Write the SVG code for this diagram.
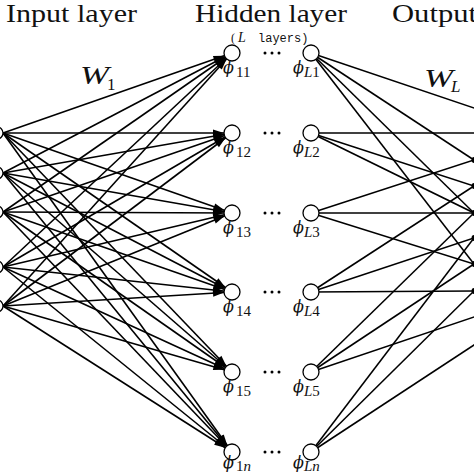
<svg xmlns="http://www.w3.org/2000/svg" width="474" height="474" viewBox="0 0 474 474">
<style>
.t{font-family:"Liberation Serif","Times New Roman",serif;fill:#111}
.i{font-style:italic}
.m{font-family:"Liberation Mono",monospace;fill:#111}
.c{stroke:#000;stroke-width:1.6;fill:none}
.n{fill:#fff;stroke:#000;stroke-width:1.3}
.d{fill:#000}
.p{font-family:"DejaVu Serif","Liberation Serif",serif;font-size:16px;font-style:italic;fill:#111}
.s{font-family:"Liberation Serif","Times New Roman",serif;font-size:15px;fill:#111}
</style>
<defs>
<marker id="ah" markerUnits="userSpaceOnUse" markerWidth="30" markerHeight="10" refX="19" refY="3.5" orient="auto" overflow="visible"><path d="M0,0 L11,3.5 L0,7 z" fill="#000"/></marker>
</defs>
<rect width="474" height="474" fill="#fff"/>
<g id="titles">
<text class="t" x="6" y="22" font-size="25" textLength="131" lengthAdjust="spacingAndGlyphs">Input layer</text>
<text class="t" x="195" y="22" font-size="25" textLength="152" lengthAdjust="spacingAndGlyphs">Hidden layer</text>
<text class="t" x="392" y="22" font-size="25" textLength="85" lengthAdjust="spacingAndGlyphs">Output</text>
<text class="t" x="231" y="42" font-size="12">(</text>
<text class="t i" x="238" y="42" font-size="14">L</text>
<text class="m" x="258" y="42" font-size="12">layers)</text>
<text class="t i" x="80" y="84" font-size="26" textLength="29" lengthAdjust="spacingAndGlyphs">W</text>
<text class="t" x="107" y="90" font-size="17">1</text>
<text class="t i" x="424" y="87" font-size="26" textLength="29" lengthAdjust="spacingAndGlyphs">W</text>
<text class="t i" x="451" y="92" font-size="17">L</text>
</g>
<g id="connectors">
<g marker-end="url(#ah)" class="c">
<line x1="3" y1="133" x2="232" y2="53"/><line x1="3" y1="133" x2="232" y2="133"/><line x1="3" y1="133" x2="232" y2="213"/><line x1="3" y1="133" x2="232" y2="292"/><line x1="3" y1="133" x2="232" y2="372"/><line x1="3" y1="133" x2="232" y2="452"/>
<line x1="3" y1="173" x2="232" y2="53"/><line x1="3" y1="173" x2="232" y2="133"/><line x1="3" y1="173" x2="232" y2="213"/><line x1="3" y1="173" x2="232" y2="292"/><line x1="3" y1="173" x2="232" y2="372"/><line x1="3" y1="173" x2="232" y2="452"/>
<line x1="3" y1="212" x2="232" y2="53"/><line x1="3" y1="212" x2="232" y2="133"/><line x1="3" y1="212" x2="232" y2="213"/><line x1="3" y1="212" x2="232" y2="292"/><line x1="3" y1="212" x2="232" y2="372"/><line x1="3" y1="212" x2="232" y2="452"/>
<line x1="3" y1="267" x2="232" y2="53"/><line x1="3" y1="267" x2="232" y2="133"/><line x1="3" y1="267" x2="232" y2="213"/><line x1="3" y1="267" x2="232" y2="292"/><line x1="3" y1="267" x2="232" y2="372"/><line x1="3" y1="267" x2="232" y2="452"/>
<line x1="3" y1="306" x2="232" y2="53"/><line x1="3" y1="306" x2="232" y2="133"/><line x1="3" y1="306" x2="232" y2="213"/><line x1="3" y1="306" x2="232" y2="292"/><line x1="3" y1="306" x2="232" y2="372"/><line x1="3" y1="306" x2="232" y2="452"/>
</g>
<g class="c">
<line x1="311" y1="53" x2="480" y2="110"/><line x1="311" y1="53" x2="474" y2="160"/><line x1="311" y1="53" x2="474" y2="213"/><line x1="311" y1="53" x2="474" y2="264"/>
<line x1="311" y1="133" x2="480" y2="133"/><line x1="311" y1="133" x2="474" y2="186"/><line x1="311" y1="133" x2="474" y2="213"/>
<line x1="311" y1="213" x2="474" y2="160"/><line x1="311" y1="213" x2="474" y2="213"/><line x1="311" y1="213" x2="474" y2="264"/>
<line x1="311" y1="292" x2="474" y2="186"/><line x1="311" y1="292" x2="474" y2="238"/><line x1="311" y1="292" x2="474" y2="291"/>
<line x1="311" y1="372" x2="474" y2="213"/><line x1="311" y1="372" x2="474" y2="264"/><line x1="311" y1="372" x2="480" y2="315"/>
<line x1="311" y1="452" x2="474" y2="238"/><line x1="311" y1="452" x2="474" y2="291"/><line x1="311" y1="452" x2="480" y2="341"/>
</g>
<g class="d">
<circle cx="474.5" cy="160" r="3"/><circle cx="474.5" cy="186" r="3"/><circle cx="474.5" cy="213" r="3"/><circle cx="474.5" cy="238" r="3"/><circle cx="474.5" cy="264" r="3"/><circle cx="474.5" cy="291" r="3"/>
</g>
</g>
<g id="input-nodes">
<circle class="n" cx="-3" cy="133" r="6"/><circle class="n" cx="-3" cy="173" r="6"/><circle class="n" cx="-3" cy="212" r="6"/><circle class="n" cx="-3" cy="267" r="6"/><circle class="n" cx="-3" cy="306" r="6"/>
</g>
<g id="h1">
<circle class="n" cx="232" cy="53" r="8"/><text class="p" x="223" y="73">ϕ</text><text class="s" x="236" y="77">11</text>
<circle class="d" cx="265" cy="53" r="1.5"/><circle class="d" cx="272" cy="53" r="1.5"/><circle class="d" cx="279" cy="53" r="1.5"/>
<circle class="n" cx="311" cy="53" r="8"/><text class="p" x="293" y="73">ϕ</text><text class="s" x="304" y="77"><tspan class="i">L</tspan>1</text>
</g>
<g id="h2">
<circle class="n" cx="232" cy="133" r="8"/><text class="p" x="223" y="153">ϕ</text><text class="s" x="236" y="157">12</text>
<circle class="d" cx="265" cy="133" r="1.5"/><circle class="d" cx="272" cy="133" r="1.5"/><circle class="d" cx="279" cy="133" r="1.5"/>
<circle class="n" cx="311" cy="133" r="8"/><text class="p" x="293" y="153">ϕ</text><text class="s" x="304" y="157"><tspan class="i">L</tspan>2</text>
</g>
<g id="h3">
<circle class="n" cx="232" cy="213" r="8"/><text class="p" x="223" y="233">ϕ</text><text class="s" x="236" y="237">13</text>
<circle class="d" cx="265" cy="213" r="1.5"/><circle class="d" cx="272" cy="213" r="1.5"/><circle class="d" cx="279" cy="213" r="1.5"/>
<circle class="n" cx="311" cy="213" r="8"/><text class="p" x="293" y="233">ϕ</text><text class="s" x="304" y="237"><tspan class="i">L</tspan>3</text>
</g>
<g id="h4">
<circle class="n" cx="232" cy="292" r="8"/><text class="p" x="223" y="312">ϕ</text><text class="s" x="236" y="316">14</text>
<circle class="d" cx="265" cy="292" r="1.5"/><circle class="d" cx="272" cy="292" r="1.5"/><circle class="d" cx="279" cy="292" r="1.5"/>
<circle class="n" cx="311" cy="292" r="8"/><text class="p" x="293" y="312">ϕ</text><text class="s" x="304" y="316"><tspan class="i">L</tspan>4</text>
</g>
<g id="h5">
<circle class="n" cx="232" cy="372" r="8"/><text class="p" x="223" y="392">ϕ</text><text class="s" x="236" y="396">15</text>
<circle class="d" cx="265" cy="372" r="1.5"/><circle class="d" cx="272" cy="372" r="1.5"/><circle class="d" cx="279" cy="372" r="1.5"/>
<circle class="n" cx="311" cy="372" r="8"/><text class="p" x="293" y="392">ϕ</text><text class="s" x="304" y="396"><tspan class="i">L</tspan>5</text>
</g>
<g id="hn">
<circle class="n" cx="232" cy="452" r="8"/><text class="p" x="223" y="468">ϕ</text><text class="s" x="236" y="471">1<tspan class="i">n</tspan></text>
<circle class="d" cx="265" cy="452" r="1.5"/><circle class="d" cx="272" cy="452" r="1.5"/><circle class="d" cx="279" cy="452" r="1.5"/>
<circle class="n" cx="311" cy="452" r="8"/><text class="p" x="293" y="468">ϕ</text><text class="s" x="304" y="471"><tspan class="i">Ln</tspan></text>
</g>
</svg>
